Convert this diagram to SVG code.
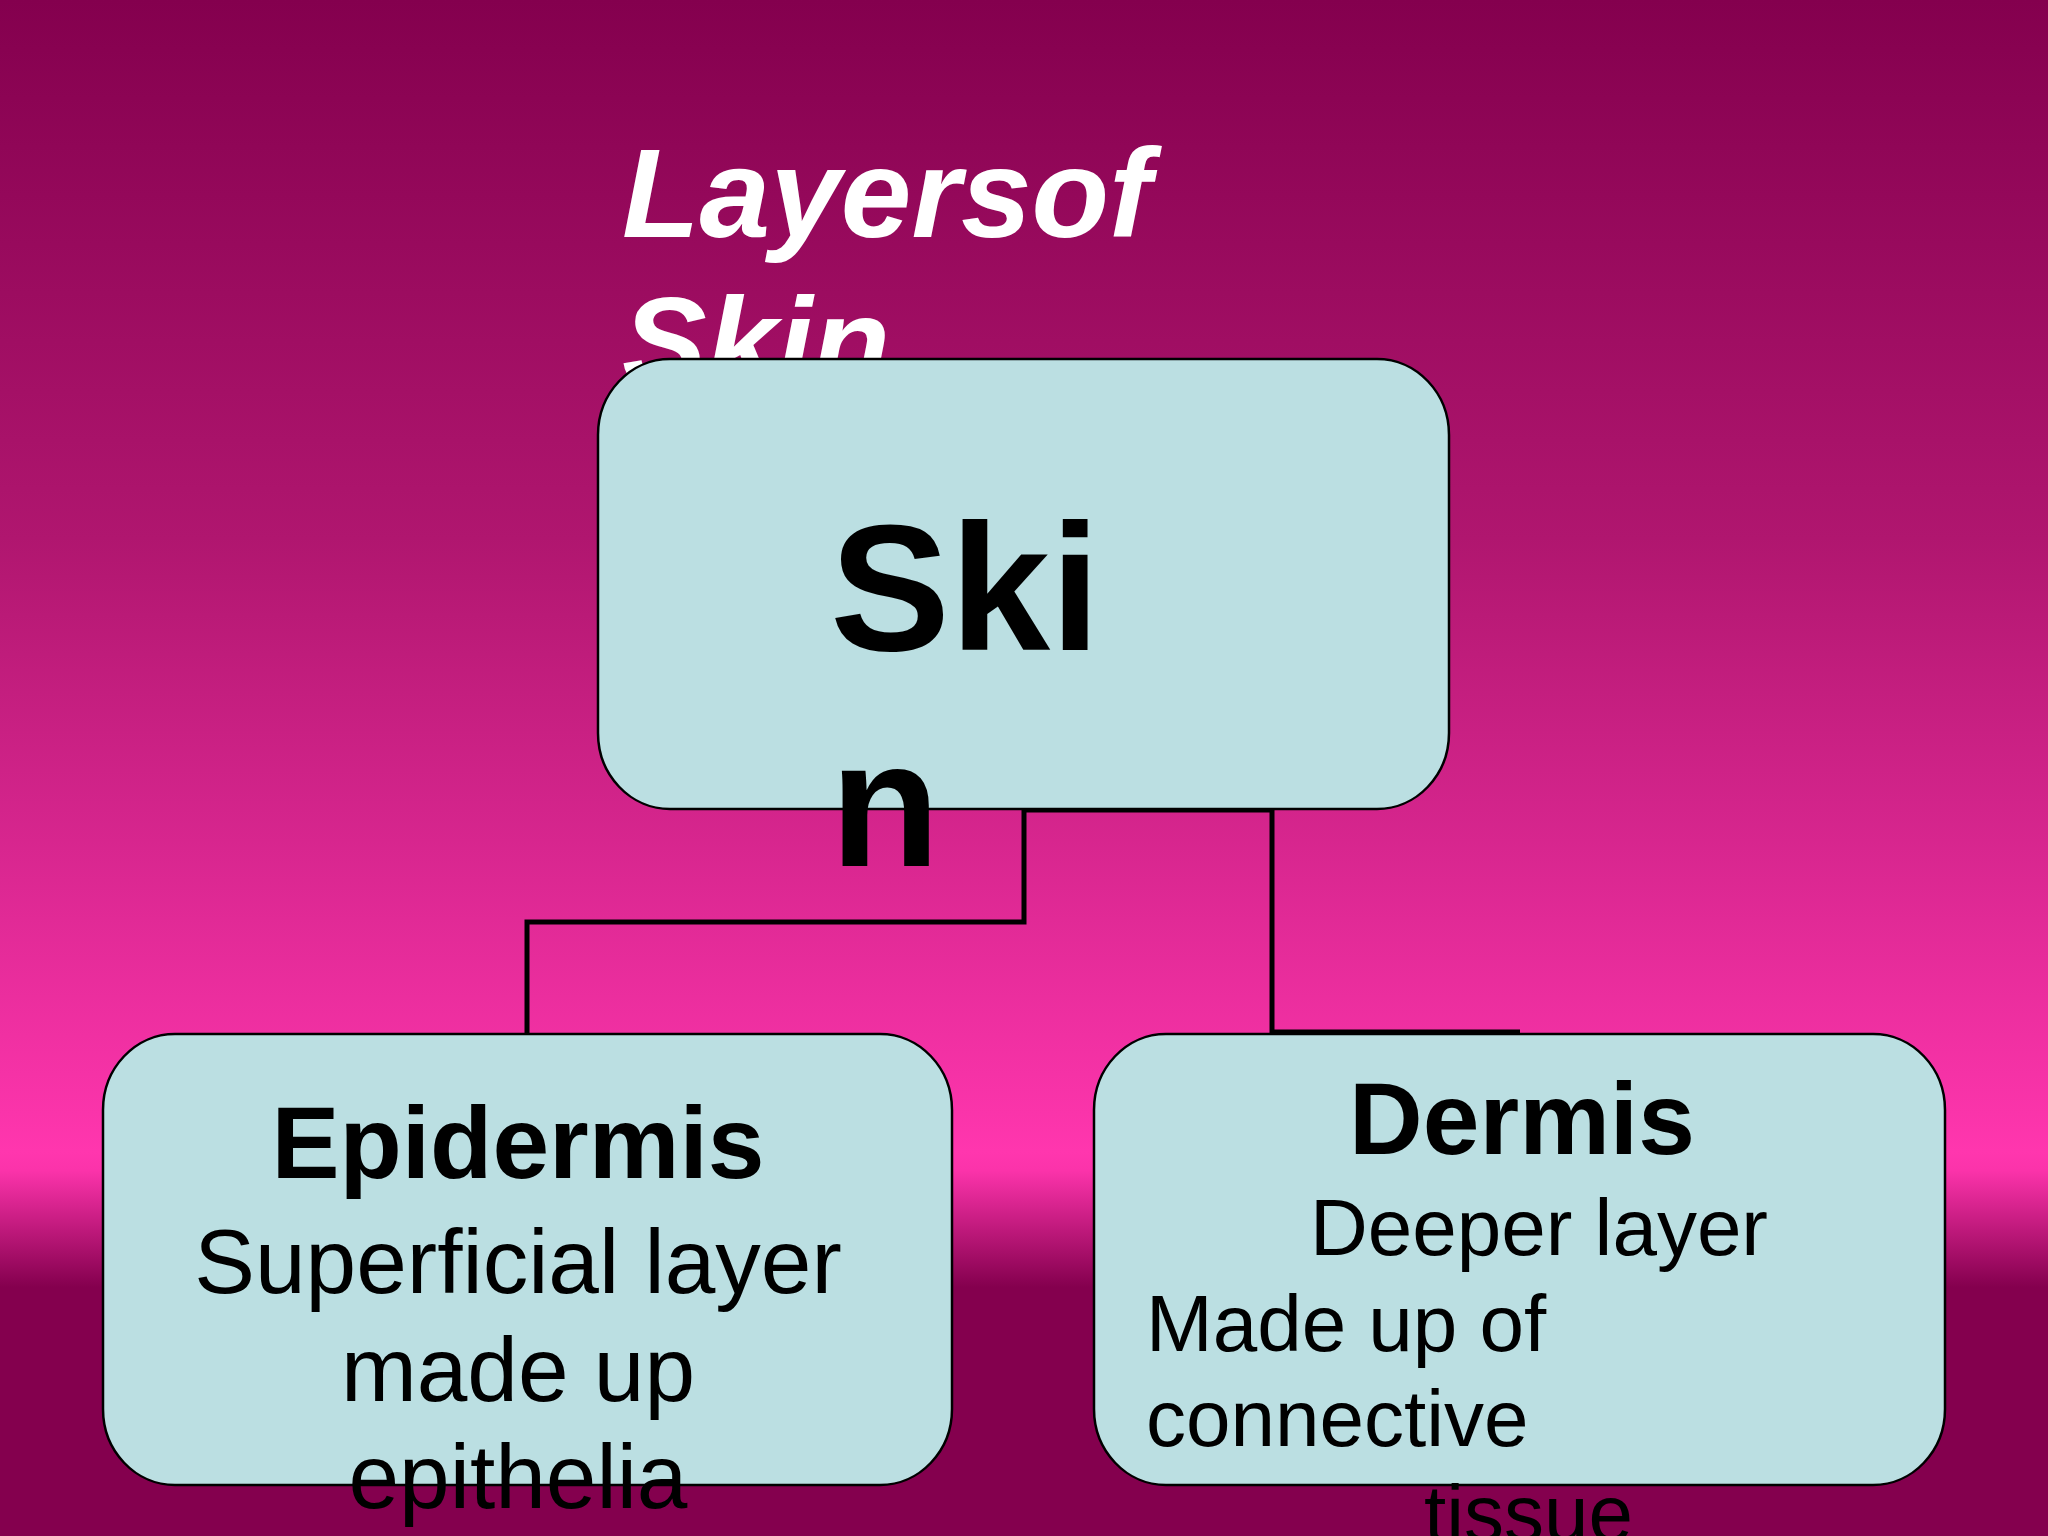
<svg xmlns="http://www.w3.org/2000/svg" width="2048" height="1536" viewBox="0 0 2048 1536">
  <defs>
    <linearGradient id="bg" gradientUnits="userSpaceOnUse" x1="0" y1="0" x2="0" y2="1536">
      <stop offset="0" stop-color="#84004E"/>
      <stop offset="0.35" stop-color="#B0166F"/>
      <stop offset="0.75" stop-color="#FF36AE"/>
      <stop offset="0.762" stop-color="#FB33AA"/>
      <stop offset="0.838" stop-color="#84004E"/>
      <stop offset="1" stop-color="#84004E"/>
    </linearGradient>
  </defs>
  <style>
    .box { fill: #BBDFE2; stroke: #000; stroke-width: 2.5; }
    .conn { fill: none; stroke: #000; stroke-width: 5; stroke-linejoin: miter; }
    .t { font-family: "Liberation Sans", Arial, sans-serif; fill: #000; }
    .b { font-weight: bold; }
    .title { font-family: "Liberation Sans", Arial, sans-serif; font-weight: bold; font-style: italic; fill: #FFF; font-size: 127px; }
  </style>
  <rect x="0" y="0" width="2048" height="1536" fill="url(#bg)"/>

  <g id="title">
    <text class="title" x="622" y="237">Layersof</text>
    <text class="title" x="622" y="386">Skin</text>
  </g>

  <g id="connectors">
    <path class="conn" d="M1024,810 V922 H527 V1034"/>
    <path class="conn" d="M1024,810 H1272 V1032 H1520"/>
  </g>

  <g id="node-skin">
    <rect class="box" x="598" y="359" width="851" height="450" rx="72" ry="76"/>
    <text class="t b" x="830" y="650" font-size="180">Ski</text>
    <text class="t b" x="830" y="866" font-size="180">n</text>
  </g>

  <g id="node-epidermis">
    <rect class="box" x="103" y="1034" width="849" height="451" rx="72" ry="76"/>
    <text class="t b" x="518" y="1178" font-size="102" text-anchor="middle">Epidermis</text>
    <text class="t" x="518" y="1293" font-size="91" text-anchor="middle">Superficial layer</text>
    <text class="t" x="518" y="1401" font-size="91" text-anchor="middle">made up</text>
    <text class="t" x="518" y="1508" font-size="91" text-anchor="middle">epithelia</text>
  </g>

  <g id="node-dermis">
    <rect class="box" x="1094" y="1034" width="851" height="451" rx="72" ry="76"/>
    <text class="t b" x="1522" y="1154" font-size="102" text-anchor="middle">Dermis</text>
    <text class="t" x="1310" y="1255" font-size="80">Deeper layer</text>
    <text class="t" x="1146" y="1351" font-size="80">Made up of</text>
    <text class="t" x="1146" y="1446" font-size="80">connective</text>
    <text class="t" x="1424" y="1541" font-size="80">tissue</text>
  </g>
</svg>
